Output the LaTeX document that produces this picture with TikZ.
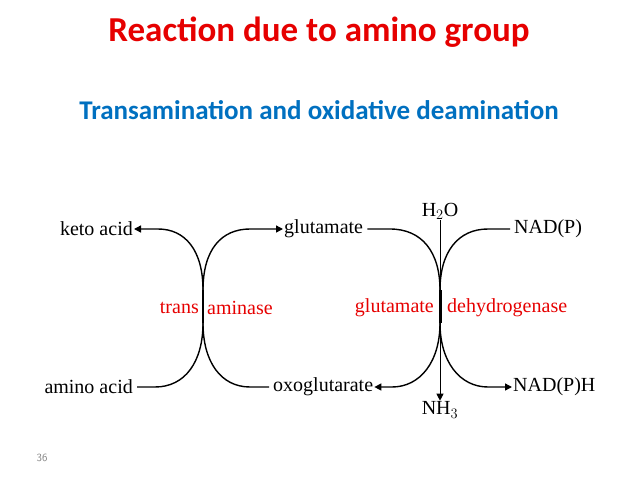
\documentclass[tikz,border=0pt]{standalone}
\usepackage{fontspec}
\setmainfont{Liberation Serif}
\newfontfamily\carfont{Carlito}
\usetikzlibrary{arrows.meta}
\definecolor{tred}{RGB}{230,0,0}
\definecolor{tblue}{RGB}{0,112,192}
\begin{document}
\begin{tikzpicture}[x=1pt,y=-1pt,
 lbl/.style={font=\fontsize{20}{20}\selectfont,inner sep=1pt},
 enz/.style={font=\fontsize{20}{20}\selectfont,text=tred,inner sep=1pt},
 ln/.style={line width=1.4pt},
 arr/.style={ln,-{Triangle[length=7pt,width=7pt]}}]
\useasboundingbox (0,0) rectangle (638,479);
\node (title) at (319,32) {\carfont\bfseries\fontsize{35}{35}\selectfont\color{tred}Reaction due to amino group};
\node (sub) at (319,110) {\carfont\bfseries\fontsize{27}{27}\selectfont\color{tblue}Transamination and oxidative deamination};
\node (pg) at (42,458) {\sffamily\fontsize{11}{11}\selectfont\color{gray}36};
% labels
\node[lbl,anchor=east] (keto) at (134,229) {keto acid};
\node[lbl,anchor=east] (amino) at (134,387) {amino acid};
\node[lbl,anchor=west] (glu) at (283,229) {glutamate};
\node[lbl,anchor=west] (oxo) at (272,387) {oxoglutarate};
\node[lbl,anchor=west] (nad) at (513,229) {NAD(P)};
\node[lbl,anchor=west] (nadh) at (512,387) {NAD(P)H};
\node[lbl] (h2o) at (440,211) {H$_2$O};
\node[lbl] (nh3) at (440,410) {NH$_3$};
\node[enz,anchor=east] (trans) at (200,308) {trans};
\node[enz,anchor=west] (amin) at (206,308) {aminase};
\node[enz,anchor=east] (glud) at (435,308) {glutamate};
\node[enz,anchor=west] (dehy) at (446,308) {dehydrogenase};
\coordinate (j1) at (203,290);
\coordinate (j2) at (203,323);
\coordinate (k1) at (440,290);
\coordinate (k2) at (440,323);
% left pair
\draw[arr] (j1) .. controls (203,250) and (185,229) .. (158,229) -- (keto.east);
\draw[arr] (j1) .. controls (203,250) and (221,229) .. (250,229) -- (glu.west);
\draw[ln] ([xshift=3pt]amino.east) -- (155,387) .. controls (185,387) and (203,362) .. (j2);
\draw[ln] ([xshift=-3pt]oxo.west) -- (250,387) .. controls (221,387) and (203,362) .. (j2);
\draw[line width=2.5pt] (j1) -- (j2);
% right pair
\draw[ln] ([xshift=3pt]glu.east) -- (390,229) .. controls (422,229) and (440,252) .. (k1);
\draw[ln] ([xshift=-3pt]nad.west) -- (488,229) .. controls (458,229) and (440,252) .. (k1);
\draw[arr] (k2) .. controls (440,362) and (420,387) .. (392,387) -- (oxo.east);
\draw[arr] (k2) .. controls (440,362) and (460,387) .. (488,387) -- (nadh.west);
\draw[line width=3pt] (k1) -- (k2);
\draw[arr,line width=1pt] (h2o.south) -- (nh3.north);
\end{tikzpicture}
\end{document}
